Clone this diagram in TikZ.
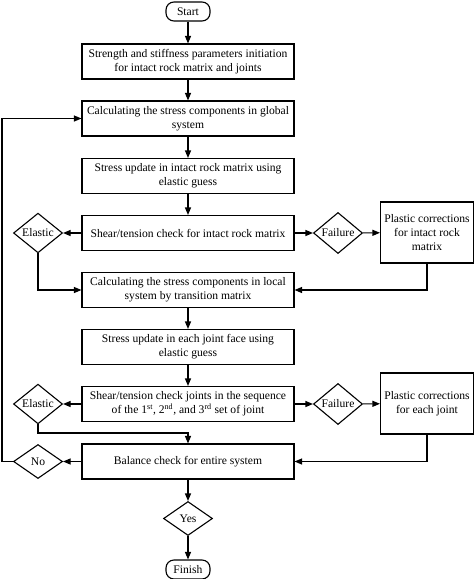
\documentclass[tikz,border=0pt]{standalone}
\usepackage{fontspec}
\setmainfont{Liberation Serif}
\usetikzlibrary{shapes.geometric,arrows.meta}
\begin{document}
\begin{tikzpicture}[x=1pt,y=-1pt,
  font=\fontsize{11.6}{14}\selectfont,
  every path/.style={line width=1.1pt},
  box/.style={draw,line width=1.1pt,minimum width=212pt,minimum height=35pt,align=center,inner sep=1pt},
  pbox/.style={draw,line width=1.1pt,minimum width=93pt,minimum height=61pt,align=center,inner sep=1pt},
  term/.style={draw,line width=1.1pt,rounded corners=8pt,minimum width=44pt,minimum height=19pt,inner sep=1pt},
  dia/.style={draw,line width=1.1pt,diamond,minimum width=49pt,minimum height=34pt,inner sep=0pt},
  arr/.style={-{Triangle[length=7.5pt,width=6pt]}}]
\useasboundingbox (0,0) rectangle (474,579);
\node[term] (start) at (188,11.5) {Start};
\node[box] (b1) at (188,61.5) {Strength and stiffness parameters initiation\\for intact rock matrix and joints};
\node[box] (b2) at (188,118.5) {Calculating the stress components in global\\system};
\node[box] (b3) at (188,176) {Stress update in intact rock matrix using\\elastic guess};
\node[box] (b4) at (188,233) {Shear/tension check for intact rock matrix};
\node[dia] (e1) at (38,233) {Elastic};
\node[dia] (f1) at (338,233) {Failure};
\node[pbox] (p1) at (427,232.5) {Plastic corrections\\for intact rock\\matrix};
\node[box] (b5) at (188,290) {Calculating the stress components in local\\system by transition matrix};
\node[box] (b6) at (188,347) {Stress update in each joint face using\\elastic guess};
\node[box] (b7) at (188,404) {Shear/tension check joints in the sequence\\of the 1\textsuperscript{st}, 2\textsuperscript{nd}, and 3\textsuperscript{rd} set of joint};
\node[dia] (e2) at (38,404) {Elastic};
\node[dia] (f2) at (338,404) {Failure};
\node[pbox] (p2) at (427,403.5) {Plastic corrections\\for each joint};
\node[box] (b8) at (188,461.5) {Balance check for entire system};
\node[dia] (no) at (38,461.5) {No};
\node[dia] (yes) at (188,518.5) {Yes};
\node[term] (fin) at (188,569.5) {Finish};
\coordinate (c1) at (2,461.5);
\coordinate (c2) at (2,118.5);
\coordinate (c3) at (38,433);
\coordinate (c4) at (188,433);
\draw[arr] (start) -- (b1);
\draw[arr] (b1) -- (b2);
\draw[arr] (b2) -- (b3);
\draw[arr] (b3) -- (b4);
\draw[arr] (b4) -- (e1);
\draw[arr] (b4) -- (f1);
\draw[arr] (f1) -- (p1);
\draw[arr] (e1.south) |- (b5.west);
\draw[arr] (p1.south) |- (b5.east);
\draw[arr] (b5) -- (b6);
\draw[arr] (b6) -- (b7);
\draw[arr] (b7) -- (e2);
\draw[arr] (b7) -- (f2);
\draw[arr] (f2) -- (p2);
\draw[arr] (e2.south) -- (c3) -- (c4) -- (b8.north);
\draw[arr] (p2.south) |- (b8.east);
\draw[arr] (b8) -- (no);
\draw[arr] (no.west) -- (c1) -- (c2) -- (b2.west);
\draw[arr] (b8) -- (yes);
\draw[arr] (yes) -- (fin);
\end{tikzpicture}
\end{document}
